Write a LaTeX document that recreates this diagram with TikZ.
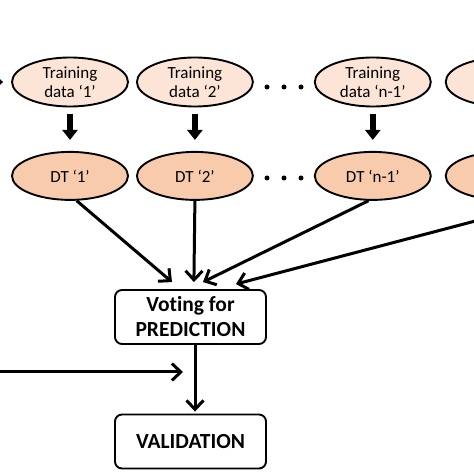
\documentclass[tikz,border=0pt]{standalone}
\usepackage{fontspec}
\setmainfont{Carlito}[Ligatures={TeX,NoCommon}]
\usetikzlibrary{positioning,arrows.meta,shapes.geometric,calc}
\definecolor{trainfill}{RGB}{252,228,214}
\definecolor{treefill}{RGB}{248,203,173}
\tikzset{
  traindata/.style={ellipse,draw=black,line width=1.9pt,fill=trainfill,align=center,minimum width=116pt,minimum height=49pt,inner sep=0pt,font=\fontsize{17}{18.5}\selectfont},
  tree/.style={ellipse,draw=black,line width=1.9pt,fill=treefill,align=center,minimum width=116pt,minimum height=48pt,inner sep=0pt,font=\fontsize{17}{18.5}\selectfont},
  votebox/.style={rectangle,rounded corners=7pt,draw=black,line width=1.9pt,align=center,minimum width=151pt,minimum height=54pt,font=\bfseries\fontsize{21.5}{25}\selectfont},
  edge/.style={-{Straight Barb[length=9pt,width=17pt]},line width=3pt},
  blockarrow/.style={-{Triangle[length=10pt,width=15pt]},line width=6.5pt,shorten <=6.5pt,shorten >=11pt},
  dot/.style={circle,fill=black,inner sep=0pt,minimum size=5pt}
}
\begin{document}
\begin{tikzpicture}[x=1pt,y=1pt]
  \useasboundingbox (0,0) rectangle (474,474);
  \node[traindata] (tr1) at (70,392) {Training\\data `1'};
  \node[traindata,right=7pt of tr1] (tr2) {Training\\data `2'};
  \node[traindata,right=60pt of tr2] (trn1) {Training\\data `n-1'};
  \node[traindata,right=13pt of trn1] (trn) {Training\\data `n'};
  \node[tree,below=43.5pt of tr1] (dt1) {DT `1'};
  \node[tree,below=43.5pt of tr2] (dt2) {DT `2'};
  \node[tree,below=43.5pt of trn1] (dtn1) {DT `n-1'};
  \node[tree,below=43.5pt of trn] (dtn) {DT `n'};
  \foreach \x in {267,284,301} {
    \node[dot] (dtop\x) at (\x,387) {};
    \node[dot] (dbot\x) at (\x,296) {};
  }
  \node[votebox] (vote) at (190.5,157) {Voting for\\PREDICTION};
  \node[votebox] (valid) at (190.5,32.5) {VALIDATION};
  \coordinate (inT) at (-20,392);
  \coordinate (inL) at (-20,102);
  % training data -> trees
  \draw[blockarrow] (tr1) -- (dt1);
  \draw[blockarrow] (tr2) -- (dt2);
  \draw[blockarrow] (trn1) -- (dtn1);
  % trees -> voting
  \draw[edge] (dt1.-75) -- ([xshift=-18.5pt,yshift=7pt]vote.north);
  \draw[edge] (dt2.south) -- ($(dt2.south |- vote.north)+(-1,7)$);
  \draw[edge] (dtn1.260) -- ([xshift=12.5pt,yshift=7pt]vote.north);
  \draw[edge] ([yshift=-9pt]dtn.south east) -- ([xshift=45.5pt,yshift=5pt]vote.north);
  \draw[edge] (inT) -- ($(tr1.west)+(-8,0)$);
  \draw[edge] (inL) -- ($(inL -| vote.south)+(-7.5,0)$);
  \draw[edge] ([xshift=4.5pt]vote.south) -- ([xshift=4.5pt,yshift=2pt]valid.north);
\end{tikzpicture}
\end{document}
